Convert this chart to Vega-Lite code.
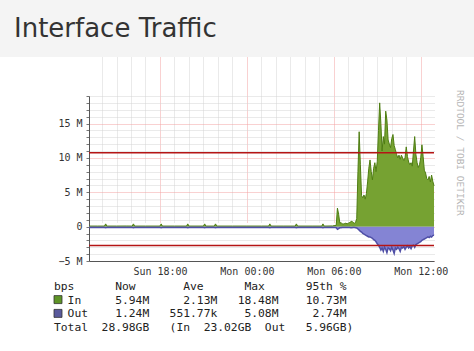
{
  "$schema": "https://vega.github.io/schema/vega-lite/v6.json",
  "padding": 0,
  "spacing": 0,
  "background": "#ffffff",
  "config": {"view": {"stroke": null}, "font": "DejaVu Sans Mono"},
  "datasets": {
    "traffic": [
      {"time": "2013-03-03T13:06", "in": 80000, "out": -120000},
      {"time": "2013-03-03T13:40", "in": 80000, "out": -120000},
      {"time": "2013-03-03T14:10", "in": 80000, "out": -120000},
      {"time": "2013-03-03T14:15", "in": 400000, "out": -150000},
      {"time": "2013-03-03T14:20", "in": 80000, "out": -120000},
      {"time": "2013-03-03T15:00", "in": 80000, "out": -120000},
      {"time": "2013-03-03T15:40", "in": 90000, "out": -120000},
      {"time": "2013-03-03T16:05", "in": 80000, "out": -120000},
      {"time": "2013-03-03T16:10", "in": 400000, "out": -150000},
      {"time": "2013-03-03T16:15", "in": 80000, "out": -120000},
      {"time": "2013-03-03T17:00", "in": 80000, "out": -120000},
      {"time": "2013-03-03T18:00", "in": 80000, "out": -120000},
      {"time": "2013-03-03T18:05", "in": 400000, "out": -150000},
      {"time": "2013-03-03T18:10", "in": 80000, "out": -120000},
      {"time": "2013-03-03T19:00", "in": 80000, "out": -120000},
      {"time": "2013-03-03T19:50", "in": 80000, "out": -120000},
      {"time": "2013-03-03T19:55", "in": 400000, "out": -150000},
      {"time": "2013-03-03T20:00", "in": 80000, "out": -120000},
      {"time": "2013-03-03T21:00", "in": 80000, "out": -120000},
      {"time": "2013-03-03T21:05", "in": 400000, "out": -150000},
      {"time": "2013-03-03T21:10", "in": 80000, "out": -120000},
      {"time": "2013-03-03T21:45", "in": 80000, "out": -120000},
      {"time": "2013-03-03T21:50", "in": 400000, "out": -150000},
      {"time": "2013-03-03T21:55", "in": 80000, "out": -120000},
      {"time": "2013-03-03T23:00", "in": 80000, "out": -120000},
      {"time": "2013-03-04T00:00", "in": 80000, "out": -120000},
      {"time": "2013-03-04T01:00", "in": 80000, "out": -120000},
      {"time": "2013-03-04T01:30", "in": 80000, "out": -120000},
      {"time": "2013-03-04T01:35", "in": 400000, "out": -150000},
      {"time": "2013-03-04T01:40", "in": 80000, "out": -120000},
      {"time": "2013-03-04T02:30", "in": 80000, "out": -120000},
      {"time": "2013-03-04T03:20", "in": 80000, "out": -120000},
      {"time": "2013-03-04T03:25", "in": 400000, "out": -150000},
      {"time": "2013-03-04T03:30", "in": 80000, "out": -120000},
      {"time": "2013-03-04T04:30", "in": 80000, "out": -120000},
      {"time": "2013-03-04T05:10", "in": 80000, "out": -120000},
      {"time": "2013-03-04T05:15", "in": 400000, "out": -150000},
      {"time": "2013-03-04T05:20", "in": 80000, "out": -120000},
      {"time": "2013-03-04T05:55", "in": 100000, "out": -120000},
      {"time": "2013-03-04T06:00", "in": 150000, "out": -120000},
      {"time": "2013-03-04T06:05", "in": 150000, "out": -120000},
      {"time": "2013-03-04T06:10", "in": 200000, "out": -150000},
      {"time": "2013-03-04T06:15", "in": 2700000, "out": -400000},
      {"time": "2013-03-04T06:20", "in": 1800000, "out": -300000},
      {"time": "2013-03-04T06:25", "in": 500000, "out": -150000},
      {"time": "2013-03-04T06:30", "in": 600000, "out": -150000},
      {"time": "2013-03-04T06:35", "in": 400000, "out": -120000},
      {"time": "2013-03-04T06:40", "in": 400000, "out": -120000},
      {"time": "2013-03-04T06:45", "in": 450000, "out": -130000},
      {"time": "2013-03-04T06:50", "in": 500000, "out": -130000},
      {"time": "2013-03-04T06:55", "in": 400000, "out": -120000},
      {"time": "2013-03-04T07:00", "in": 500000, "out": -130000},
      {"time": "2013-03-04T07:05", "in": 600000, "out": -140000},
      {"time": "2013-03-04T07:10", "in": 700000, "out": -150000},
      {"time": "2013-03-04T07:15", "in": 800000, "out": -150000},
      {"time": "2013-03-04T07:20", "in": 600000, "out": -140000},
      {"time": "2013-03-04T07:25", "in": 500000, "out": -140000},
      {"time": "2013-03-04T07:30", "in": 600000, "out": -150000},
      {"time": "2013-03-04T07:35", "in": 1200000, "out": -200000},
      {"time": "2013-03-04T07:40", "in": 8000000, "out": -350000},
      {"time": "2013-03-04T07:45", "in": 13800000, "out": -500000},
      {"time": "2013-03-04T07:50", "in": 9000000, "out": -700000},
      {"time": "2013-03-04T07:55", "in": 4500000, "out": -800000},
      {"time": "2013-03-04T08:00", "in": 4200000, "out": -1000000},
      {"time": "2013-03-04T08:05", "in": 4600000, "out": -1100000},
      {"time": "2013-03-04T08:10", "in": 4000000, "out": -1200000},
      {"time": "2013-03-04T08:15", "in": 4800000, "out": -1300000},
      {"time": "2013-03-04T08:20", "in": 6500000, "out": -1400000},
      {"time": "2013-03-04T08:25", "in": 8500000, "out": -1500000},
      {"time": "2013-03-04T08:30", "in": 9700000, "out": -1500000},
      {"time": "2013-03-04T08:35", "in": 8000000, "out": -1600000},
      {"time": "2013-03-04T08:40", "in": 6800000, "out": -1700000},
      {"time": "2013-03-04T08:45", "in": 8500000, "out": -1900000},
      {"time": "2013-03-04T08:50", "in": 9300000, "out": -2000000},
      {"time": "2013-03-04T08:55", "in": 8000000, "out": -2200000},
      {"time": "2013-03-04T09:00", "in": 9500000, "out": -2500000},
      {"time": "2013-03-04T09:05", "in": 14000000, "out": -2700000},
      {"time": "2013-03-04T09:10", "in": 18000000, "out": -3000000},
      {"time": "2013-03-04T09:15", "in": 15000000, "out": -3400000},
      {"time": "2013-03-04T09:20", "in": 11000000, "out": -3100000},
      {"time": "2013-03-04T09:25", "in": 13100000, "out": -3600000},
      {"time": "2013-03-04T09:30", "in": 12000000, "out": -3000000},
      {"time": "2013-03-04T09:35", "in": 16800000, "out": -3300000},
      {"time": "2013-03-04T09:40", "in": 15500000, "out": -3800000},
      {"time": "2013-03-04T09:45", "in": 12600000, "out": -3100000},
      {"time": "2013-03-04T09:50", "in": 12000000, "out": -3200000},
      {"time": "2013-03-04T09:55", "in": 11500000, "out": -3500000},
      {"time": "2013-03-04T10:00", "in": 12800000, "out": -3000000},
      {"time": "2013-03-04T10:05", "in": 13400000, "out": -3400000},
      {"time": "2013-03-04T10:10", "in": 11800000, "out": -3900000},
      {"time": "2013-03-04T10:15", "in": 11200000, "out": -3100000},
      {"time": "2013-03-04T10:20", "in": 10500000, "out": -3300000},
      {"time": "2013-03-04T10:25", "in": 10000000, "out": -3000000},
      {"time": "2013-03-04T10:30", "in": 10400000, "out": -3200000},
      {"time": "2013-03-04T10:35", "in": 9800000, "out": -3600000},
      {"time": "2013-03-04T10:40", "in": 10400000, "out": -3000000},
      {"time": "2013-03-04T10:45", "in": 10000000, "out": -3100000},
      {"time": "2013-03-04T10:50", "in": 9600000, "out": -2900000},
      {"time": "2013-03-04T10:55", "in": 10000000, "out": -3300000},
      {"time": "2013-03-04T11:00", "in": 11600000, "out": -3000000},
      {"time": "2013-03-04T11:05", "in": 10200000, "out": -2800000},
      {"time": "2013-03-04T11:10", "in": 9400000, "out": -3100000},
      {"time": "2013-03-04T11:15", "in": 9000000, "out": -2900000},
      {"time": "2013-03-04T11:20", "in": 9300000, "out": -3200000},
      {"time": "2013-03-04T11:25", "in": 8800000, "out": -2800000},
      {"time": "2013-03-04T11:30", "in": 11000000, "out": -2700000},
      {"time": "2013-03-04T11:35", "in": 13100000, "out": -3000000},
      {"time": "2013-03-04T11:40", "in": 10500000, "out": -2600000},
      {"time": "2013-03-04T11:45", "in": 9300000, "out": -2500000},
      {"time": "2013-03-04T11:50", "in": 8600000, "out": -2400000},
      {"time": "2013-03-04T11:55", "in": 9000000, "out": -2300000},
      {"time": "2013-03-04T12:00", "in": 10000000, "out": -2200000},
      {"time": "2013-03-04T12:05", "in": 11900000, "out": -2000000},
      {"time": "2013-03-04T12:10", "in": 10200000, "out": -1900000},
      {"time": "2013-03-04T12:15", "in": 8200000, "out": -1800000},
      {"time": "2013-03-04T12:20", "in": 7800000, "out": -1700000},
      {"time": "2013-03-04T12:25", "in": 7000000, "out": -1600000},
      {"time": "2013-03-04T12:30", "in": 6800000, "out": -1500000},
      {"time": "2013-03-04T12:35", "in": 7300000, "out": -1600000},
      {"time": "2013-03-04T12:40", "in": 6500000, "out": -1400000},
      {"time": "2013-03-04T12:45", "in": 7500000, "out": -1500000},
      {"time": "2013-03-04T12:50", "in": 6600000, "out": -1300000},
      {"time": "2013-03-04T12:55", "in": 5940000, "out": -1240000}
    ],
    "p95": [
      {"time": "2013-03-03T13:06", "end": "2013-03-04T12:55", "value": 10730000},
      {"time": "2013-03-03T13:06", "end": "2013-03-04T12:55", "value": -2740000}
    ],
    "legend": [
      {"row": "bps", "line": "bps\u00a0\u00a0\u00a0\u00a0\u00a0\u00a0Now\u00a0\u00a0\u00a0\u00a0\u00a0\u00a0\u00a0Ave\u00a0\u00a0\u00a0\u00a0\u00a0\u00a0Max\u00a0\u00a0\u00a0\u00a0\u00a0\u00a095th\u00a0%"},
      {"row": "In", "line": "\u200b\u00a0\u00a0In\u00a0\u00a0\u00a0\u00a0\u00a05.94M\u00a0\u00a0\u00a0\u00a0\u00a02.13M\u00a0\u00a0\u00a018.48M\u00a0\u00a0\u00a0\u00a010.73M"},
      {"row": "Out", "line": "\u200b\u00a0\u00a0Out\u00a0\u00a0\u00a0\u00a01.24M\u00a0\u00a0\u00a0551.77k\u00a0\u00a0\u00a0\u00a05.08M\u00a0\u00a0\u00a0\u00a0\u00a02.74M"},
      {"row": "Total", "line": "Total\u00a0\u00a028.98GB\u00a0\u00a0\u00a0(In\u00a0\u00a023.02GB\u00a0\u00a0Out\u00a0\u00a0\u00a05.96GB)"}
    ],
    "swatch": [
      {"row": "In", "series": "In"},
      {"row": "Out", "series": "Out"}
    ]
  },
  "vconcat": [
    {
      "width": 474,
      "height": 57,
      "view": {"fill": "#f4f4f4", "stroke": null},
      "data": {"values": [{"label": "Interface Traffic"}]},
      "mark": {"type": "text", "align": "left", "baseline": "alphabetic", "dx": -223, "dy": 8.5, "font": "DejaVu Sans", "fontSize": 26, "color": "#333333"},
      "encoding": {"text": {"field": "label", "type": "nominal"}}
    },
    {
      "width": 474,
      "height": 204,
      "title": {"text": "RRDTOOL / TOBI OETIKER", "orient": "right", "anchor": "start", "frame": "group", "offset": -19, "dx": 33, "font": "DejaVu Sans Mono", "fontSize": 9.5, "fontWeight": "normal", "color": "#b4b4b4"},
      "encoding": {
        "x": {
          "field": "time",
          "type": "temporal",
          "scale": {
            "domain": [
              {"year": 2013, "month": 3, "date": 3, "hours": 13, "minutes": 6},
              {"year": 2013, "month": 3, "date": 4, "hours": 12, "minutes": 55}
            ],
            "range": [89, 434]
          },
          "axis": {
            "title": null,
            "tickCount": 100,
            "values": [
              {"year": 2013, "month": 3, "date": 3, "hours": 14},
              {"year": 2013, "month": 3, "date": 3, "hours": 15},
              {"year": 2013, "month": 3, "date": 3, "hours": 16},
              {"year": 2013, "month": 3, "date": 3, "hours": 17},
              {"year": 2013, "month": 3, "date": 3, "hours": 18},
              {"year": 2013, "month": 3, "date": 3, "hours": 19},
              {"year": 2013, "month": 3, "date": 3, "hours": 20},
              {"year": 2013, "month": 3, "date": 3, "hours": 21},
              {"year": 2013, "month": 3, "date": 3, "hours": 22},
              {"year": 2013, "month": 3, "date": 3, "hours": 23},
              {"year": 2013, "month": 3, "date": 4, "hours": 0},
              {"year": 2013, "month": 3, "date": 4, "hours": 1},
              {"year": 2013, "month": 3, "date": 4, "hours": 2},
              {"year": 2013, "month": 3, "date": 4, "hours": 3},
              {"year": 2013, "month": 3, "date": 4, "hours": 4},
              {"year": 2013, "month": 3, "date": 4, "hours": 5},
              {"year": 2013, "month": 3, "date": 4, "hours": 6},
              {"year": 2013, "month": 3, "date": 4, "hours": 7},
              {"year": 2013, "month": 3, "date": 4, "hours": 8},
              {"year": 2013, "month": 3, "date": 4, "hours": 9},
              {"year": 2013, "month": 3, "date": 4, "hours": 10},
              {"year": 2013, "month": 3, "date": 4, "hours": 11},
              {"year": 2013, "month": 3, "date": 4, "hours": 12}
            ],
            "labelExpr": "hours(datum.value) % 6 === 0 ? timeFormat(datum.value, '%a %H:%M') : ''",
            "labelOverlap": false,
            "labelFlush": false,
            "labelFont": "DejaVu Sans Mono",
            "labelFontSize": 10,
            "labelColor": "#333333",
            "labelPadding": 5,
            "ticks": false,
            "domainColor": "#555555",
            "grid": true,
            "gridColor": {"condition": {"test": "hours(datum.value) % 6 === 0", "value": "#f3a3a3"}, "value": "#d4d4d4"},
            "gridDash": [1, 1]
          }
        }
      },
      "layer": [
        {
          "data": {"name": "traffic"},
          "mark": {"type": "area", "color": "#76a232", "clip": true},
          "encoding": {
            "y": {
              "field": "in",
              "type": "quantitative",
              "scale": {"domain": [-5000000, 19000000], "nice": false, "zero": false, "range": [204, 39]},
              "axis": {
                "title": null,
                "offset": -89,
                "tickCount": 100,
                "values": [-5000000, -4000000, -3000000, -2000000, -1000000, 0, 1000000, 2000000, 3000000, 4000000, 5000000, 6000000, 7000000, 8000000, 9000000, 10000000, 11000000, 12000000, 13000000, 14000000, 15000000, 16000000, 17000000, 18000000, 19000000],
                "labelExpr": "datum.value === 0 ? '0' : (datum.value % 5000000 === 0 ? format(datum.value / 1000000, 'd') + ' M' : '')",
                "labelOverlap": false,
                "labelFont": "DejaVu Sans Mono",
                "labelFontSize": 10,
                "labelColor": "#333333",
                "labelPadding": 4,
                "tickSize": 3,
                "tickColor": "#777777",
                "domainColor": "#555555",
                "grid": true,
                "gridColor": {"condition": {"test": "datum.value % 5000000 === 0", "value": "#f3a3a3"}, "value": "#d4d4d4"},
                "gridDash": [1, 1]
              }
            }
          }
        },
        {
          "data": {"name": "traffic"},
          "mark": {"type": "line", "color": "#4e7d12", "strokeWidth": 1, "clip": true},
          "encoding": {"y": {"field": "in", "type": "quantitative"}}
        },
        {
          "data": {"name": "traffic"},
          "mark": {"type": "area", "color": "#8484d4", "clip": true},
          "encoding": {"y": {"field": "out", "type": "quantitative"}}
        },
        {
          "data": {"name": "traffic"},
          "mark": {"type": "line", "color": "#4f4fa6", "strokeWidth": 1.5, "clip": true},
          "encoding": {"y": {"field": "out", "type": "quantitative"}}
        },
        {
          "data": {"name": "p95"},
          "mark": {"type": "rule", "color": "#b51515", "strokeWidth": 1.5},
          "encoding": {
            "x2": {"field": "end"},
            "y": {"field": "value", "type": "quantitative"}
          }
        }
      ]
    },
    {
      "width": 116,
      "height": 69,
      "layer": [
        {
          "data": {"name": "legend"},
          "mark": {"type": "text", "align": "left", "baseline": "alphabetic", "dx": -4, "font": "DejaVu Sans Mono", "fontSize": 11.3, "color": "#222222"},
          "encoding": {
            "y": {"field": "row", "type": "ordinal", "sort": ["bps", "In", "Out", "Total"], "scale": {"type": "point", "padding": 1}, "axis": null},
            "text": {"field": "line", "type": "nominal"}
          }
        },
        {
          "data": {"name": "swatch"},
          "mark": {"type": "square", "size": 64, "filled": true, "stroke": "#333333", "strokeWidth": 0.8, "opacity": 1, "yOffset": -4},
          "encoding": {
            "y": {"field": "row", "type": "ordinal", "sort": ["bps", "In", "Out", "Total"]},
            "color": {"field": "series", "type": "nominal", "scale": {"domain": ["In", "Out"], "range": ["#5e9426", "#5a5a9c"]}, "legend": null}
          }
        }
      ]
    }
  ]
}
